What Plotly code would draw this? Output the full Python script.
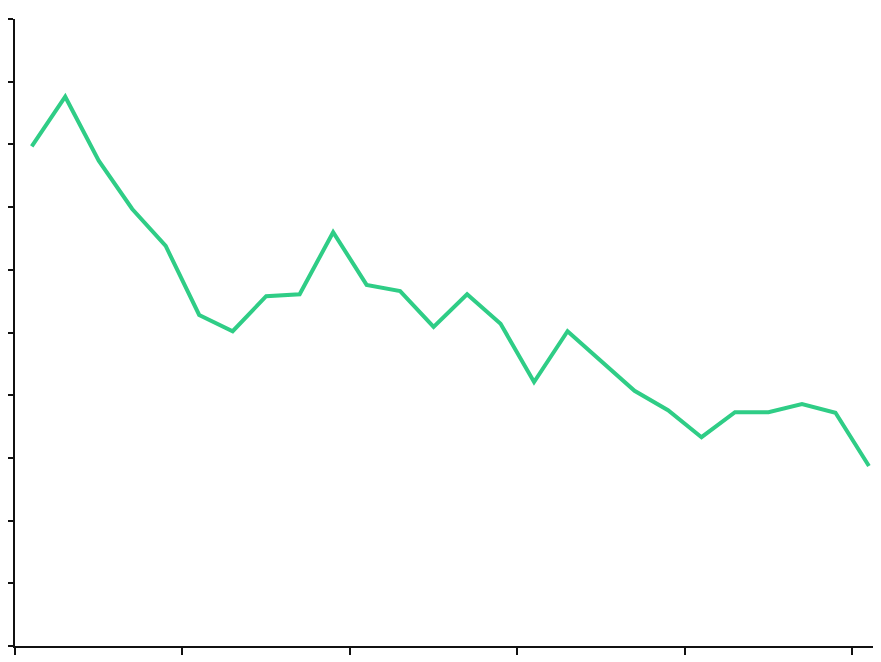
import plotly.graph_objects as go

# x positions (periods) and values
periods = list(range(1, 27))
values = [79.7, 87.6, 77.4, 69.7, 63.8, 52.8, 50.2, 55.8, 56.1, 66.0,
          57.6, 56.6, 50.9, 56.1, 51.4, 42.1, 50.2, 45.5, 40.7, 37.6,
          33.3, 37.3, 37.3, 38.6, 37.2, 28.7]

x_ticks = [0.5, 5.5, 10.5, 15.5, 20.5, 25.5]
y_ticks = list(range(0, 101, 10))

fig = go.Figure()
fig.add_trace(go.Scatter(x=periods, y=values, mode="lines",
                         line=dict(color="#2fcd86", width=4),
                         hoverinfo="skip"))

axis_style = dict(showgrid=False, zeroline=False, showline=True,
                  linecolor="#111111", linewidth=2,
                  ticks="outside", ticklen=7, tickwidth=2, tickcolor="#111111",
                  showticklabels=False)

# the page body adds 8px around the figure, so the margins are trimmed by that
fig.update_layout(
    width=873, height=654,
    margin=dict(l=7, r=0, t=11, b=16),
    plot_bgcolor="white", paper_bgcolor="white",
    showlegend=False,
    xaxis=dict(range=[0.5, 26.36], tickvals=x_ticks, **axis_style),
    yaxis=dict(range=[0, 100], tickvals=y_ticks, **axis_style),
)

fig.write_html("out.html")
